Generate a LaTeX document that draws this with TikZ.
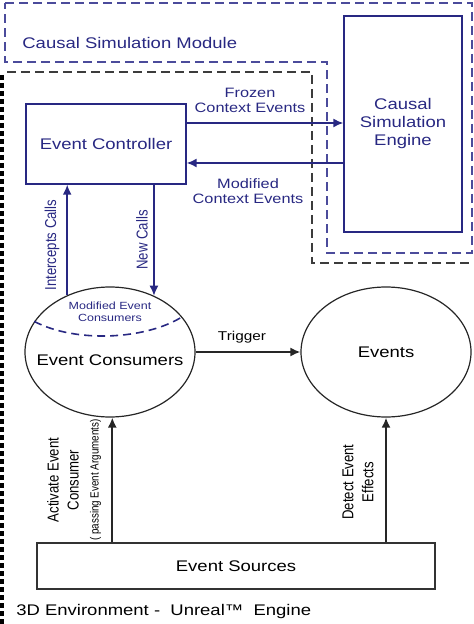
\documentclass[tikz,border=0pt]{standalone}
\usepackage{fontspec}
\setmainfont{Liberation Sans}[FakeStretch=1.2]
\newfontfamily\rotfont{Liberation Sans}[FakeStretch=0.833]
\usetikzlibrary{shapes.geometric,arrows.meta}
\definecolor{navy}{RGB}{40,40,130}
\definecolor{dashblue}{RGB}{75,75,155}
\definecolor{dashgray}{RGB}{60,60,60}

\begin{document}
\begin{tikzpicture}[x=0.5pt,y=-0.5pt,font=\fontsize{7.7}{9}\selectfont]
\tikzstyle{box}=[draw=navy, line width=0.7pt, inner sep=0pt, align=center, text=navy]
\tikzstyle{srcbox}=[draw=black!80, line width=0.7pt, inner sep=0pt, minimum width=199pt, minimum height=23pt]
\tikzstyle{blob}=[ellipse, draw=black!85, line width=0.6pt, minimum width=85pt, minimum height=65pt, inner sep=0pt]
\tikzstyle{lbl}=[text=navy, font=\fontsize{6.8}{7.5}\selectfont, align=center, inner sep=0pt]
\tikzstyle{vlbl}=[rotate=90, align=center, inner sep=0pt, font=\rotfont\fontsize{7.9}{10}\selectfont]
\tikzstyle{arr}=[-{Latex[length=5pt,width=4.5pt]}, line width=0.8pt, draw=navy]
\tikzstyle{blackarr}=[-{Latex[length=5pt,width=4.5pt]}, line width=0.9pt, draw=black!85]

\useasboundingbox (0,0) rectangle (474,624);

% dashed module borders
\draw[dashblue, line width=1pt, dash pattern=on 4.5pt off 2.5pt] (5,3) -- (472,3) -- (472,253) -- (327,253) -- (327,62) -- (5,62) -- cycle;
\draw[dashgray, line width=0.9pt, dash pattern=on 4.5pt off 2.5pt] (7,72) -- (312,72) -- (312,263) -- (474,263);
\draw[black, line width=1.6pt, dash pattern=on 2.5pt off 1.5pt] (2,75) -- (2,624);

\node[anchor=west, text=navy, inner sep=0pt] (modTitle) at (22,43) {Causal Simulation Module};
\node[anchor=west, inner sep=0pt] (envTitle) at (16,612) {3D Environment -\ \ Unreal™\ \ Engine};

% boxes
\node[box, minimum width=80pt, minimum height=40pt] (ctrl) at (106,144) {Event Controller};
\node[box, minimum width=59pt, minimum height=108pt] (engine) at (403,124) {Causal\\Simulation\\Engine};
\node[blob] (consumers) at (110,352) {};
\node (consName) at (110,360) {Event Consumers};
\node[blob] (events) at (386,352) {Events};
\node[srcbox] (sources) at (236,566) {Event Sources};

% controller <-> engine
\draw[arr] ([yshift=10.5pt]ctrl.east) -- ([yshift=10.5pt]ctrl.east -| engine.west);
\draw[arr] ([yshift=-9.5pt]ctrl.east -| engine.west) -- ([yshift=-9.5pt]ctrl.east);
\node[lbl] (frozenLbl) at (250,100) {Frozen\\Context Events};
\node[lbl] (modLbl) at (248,191) {Modified\\Context Events};

% controller <-> consumers
\draw[arr] (consumers.127) -- (consumers.127 |- ctrl.south);
\draw[arr] (ctrl.south -| consumers.52) -- (consumers.52);
\node[vlbl, text=navy] (interLbl) at (52,245) {Intercepts Calls};
\node[vlbl, text=navy] (newLbl) at (142,240) {New Calls};

\draw[navy, line width=0.8pt, dash pattern=on 4pt off 2.5pt] (consumers.158) .. controls (75,343) and (145,340) .. (consumers.26);
\node[text=navy, align=center, inner sep=0pt, font=\fontsize{5.2}{5.8}\selectfont] (modName) at (110,312) {Modified Event\\Consumers};

% consumers -> events
\draw[blackarr] (consumers.east) -- (events.west);
\node[inner sep=0pt, font=\fontsize{6.4}{7.5}\selectfont] (trigLbl) at (242,337) {Trigger};

% sources -> consumers / events
\draw[blackarr] (sources.north -| consumers.272) -- (consumers.272);
\draw[blackarr] (sources.north -| events.south) -- (events.south);
\node[vlbl] (actLbl) at (74,480) {Activate Event\\Consumer\\{\fontsize{5.9}{10}\selectfont ( passing Event Arguments)}};
\node[vlbl] (detLbl) at (358,482) {Detect Event\\Effects};

\end{tikzpicture}
\end{document}
